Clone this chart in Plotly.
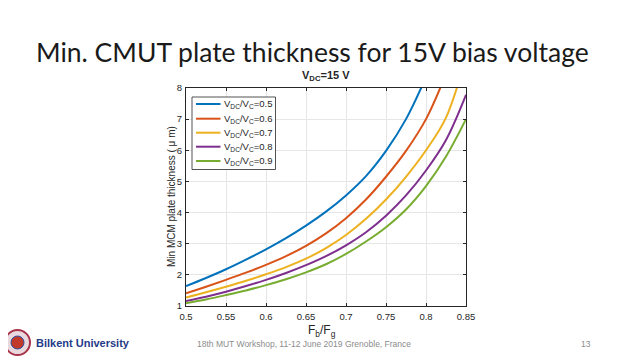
import plotly.graph_objects as go

# ---- data ----
fb_fg = [0.500, 0.525, 0.550, 0.575, 0.600, 0.625, 0.650, 0.675, 0.700,
         0.725, 0.750, 0.775, 0.800, 0.825, 0.850]
h_05 = [1.64, 1.90, 2.18, 2.49, 2.82, 3.18, 3.58, 4.03, 4.55, 5.17, 5.98, 7.00, 8.35]
h_06 = [1.41, 1.62, 1.84, 2.07, 2.32, 2.60, 2.93, 3.33, 3.82, 4.42, 5.15, 5.98, 7.00, 8.45]
h_07 = [1.27, 1.44, 1.62, 1.81, 2.02, 2.25, 2.52, 2.86, 3.28, 3.80, 4.42, 5.15, 6.00, 7.05, 9.00]
h_08 = [1.16, 1.30, 1.46, 1.64, 1.84, 2.06, 2.31, 2.60, 2.95, 3.37, 3.90, 4.55, 5.35, 6.33, 7.78]
h_09 = [1.09, 1.21, 1.35, 1.50, 1.67, 1.86, 2.08, 2.34, 2.67, 3.07, 3.53, 4.10, 4.85, 5.80, 7.00]

ratios = ["0.5", "0.6", "0.7", "0.8", "0.9"]
series = [h_05, h_06, h_07, h_08, h_09]
colors = ["#0072BD", "#D95319", "#EDB120", "#7E2F8E", "#77AC30"]

x_ticks = [0.5, 0.55, 0.6, 0.65, 0.7, 0.75, 0.8, 0.85]
x_tick_text = ["0.5", "0.55", "0.6", "0.65", "0.7", "0.75", "0.8", "0.85"]
y_ticks = [1, 2, 3, 4, 5, 6, 7, 8]

# page offset: the browser body adds 8 px around the figure
OFF = 8
L, T, PW, PH = 186, 88, 280, 218   # plot area in window pixels


def px(xw):
    return (xw - L) / PW


def py(yw):
    return (T + PH - yw) / PH


fig = go.Figure()
for r, ys, c in zip(ratios, series, colors):
    fig.add_trace(go.Scatter(
        x=fb_fg[:len(ys)], y=ys, mode="lines",
        line=dict(color=c, width=2, shape="spline", smoothing=1.0),
        name=f"V<sub>DC</sub>/V<sub>C</sub>={r}", showlegend=False))

axis_common = dict(
    showline=True, linecolor="#262626", linewidth=1, mirror="allticks",
    ticks="inside", ticklen=3, tickcolor="#262626",
    showgrid=True, gridcolor="#e6e6e6", gridwidth=1, zeroline=False,
    tickfont=dict(family="Liberation Sans, Arial", size=9.5, color="#262626"),
)
fig.update_xaxes(range=[0.5, 0.85], tickvals=x_ticks, ticktext=x_tick_text,
                 ticklabelstandoff=2, **axis_common)
fig.update_yaxes(range=[1, 8], tickvals=y_ticks, ticklabelstandoff=1, **axis_common)

font_ax = dict(family="Liberation Sans, Arial", color="#262626")
annotations = [
    dict(text="Min. CMUT plate thickness for 15V bias voltage", xref="paper", yref="paper",
         x=px(34), y=py(52), xanchor="left", yanchor="middle",
         showarrow=False, font=dict(family="Lato, sans-serif", size=26.5, color="#1a1a1a")),
    dict(text="<b>V<sub>DC</sub>=15 V</b>", xref="paper", yref="paper",
         x=0.5, y=py(76), xanchor="center", yanchor="middle",
         showarrow=False, font=dict(size=11, **font_ax)),
    dict(text="F<sub>b</sub>/F<sub>g</sub>", xref="paper", yref="paper",
         x=px(322), y=py(331), xanchor="center", yanchor="middle",
         showarrow=False, font=dict(size=12, **font_ax)),
    dict(text="Min MCM plate thickness ( \u03bc m)", xref="paper", yref="paper",
         x=px(171), y=py(197), xanchor="center", yanchor="middle", textangle=-90,
         showarrow=False, font=dict(size=10, **font_ax)),
    dict(text="18th MUT Workshop, 11-12 June 2019 Grenoble, France", xref="paper", yref="paper",
         x=px(304), y=py(344), xanchor="center", yanchor="middle",
         showarrow=False, font=dict(family="Liberation Sans, Arial", size=8.5, color="#8c8c8c")),
    dict(text="13", xref="paper", yref="paper",
         x=px(586), y=py(344), xanchor="center", yanchor="middle",
         showarrow=False, font=dict(family="Liberation Sans, Arial", size=8.5, color="#8c8c8c")),
    dict(text="<b>Bilkent University</b>", xref="paper", yref="paper",
         x=px(34), y=py(343), xanchor="left", yanchor="middle",
         showarrow=False, font=dict(family="Liberation Sans, Arial", size=11, color="#1f3c88")),
]

shapes = [
    # legend box
    dict(type="rect", xref="paper", yref="paper", x0=px(192), x1=px(275.5),
         y0=py(169.5), y1=py(97),
         line=dict(color="#262626", width=0.8), fillcolor="white", layer="above"),
    # logo
    dict(type="circle", xref="paper", yref="paper",
         x0=px(5), x1=px(30), y0=py(355), y1=py(330),
         line=dict(color="#a8324a", width=2), fillcolor="#e9d9de"),
    dict(type="circle", xref="paper", yref="paper",
         x0=px(11), x1=px(24), y0=py(349), y1=py(336),
         line=dict(color="#2d4d9a", width=1), fillcolor="#c0392b"),
]

entry_y = [104, 118.7, 132.7, 146.7, 161]
for r, c, yw in zip(ratios, colors, entry_y):
    yp = py(yw)
    shapes.append(dict(type="line", xref="paper", yref="paper",
                       x0=px(196), x1=px(220.5), y0=yp, y1=yp,
                       line=dict(color=c, width=2), layer="above"))
    annotations.append(dict(text=f"V<sub>DC</sub>/V<sub>C</sub>={r}", xref="paper", yref="paper",
                            x=px(221.5), y=yp, xanchor="left", yanchor="middle",
                            showarrow=False, font=dict(size=9.5, **font_ax)))

fig.update_layout(
    width=638 - OFF, height=359 - OFF,
    margin=dict(l=L - OFF, r=638 - OFF - (L - OFF) - PW, t=T - OFF, b=359 - OFF - (T - OFF) - PH),
    paper_bgcolor="white", plot_bgcolor="white",
    showlegend=False,
    annotations=annotations, shapes=shapes,
)

fig.write_html("out.html")
